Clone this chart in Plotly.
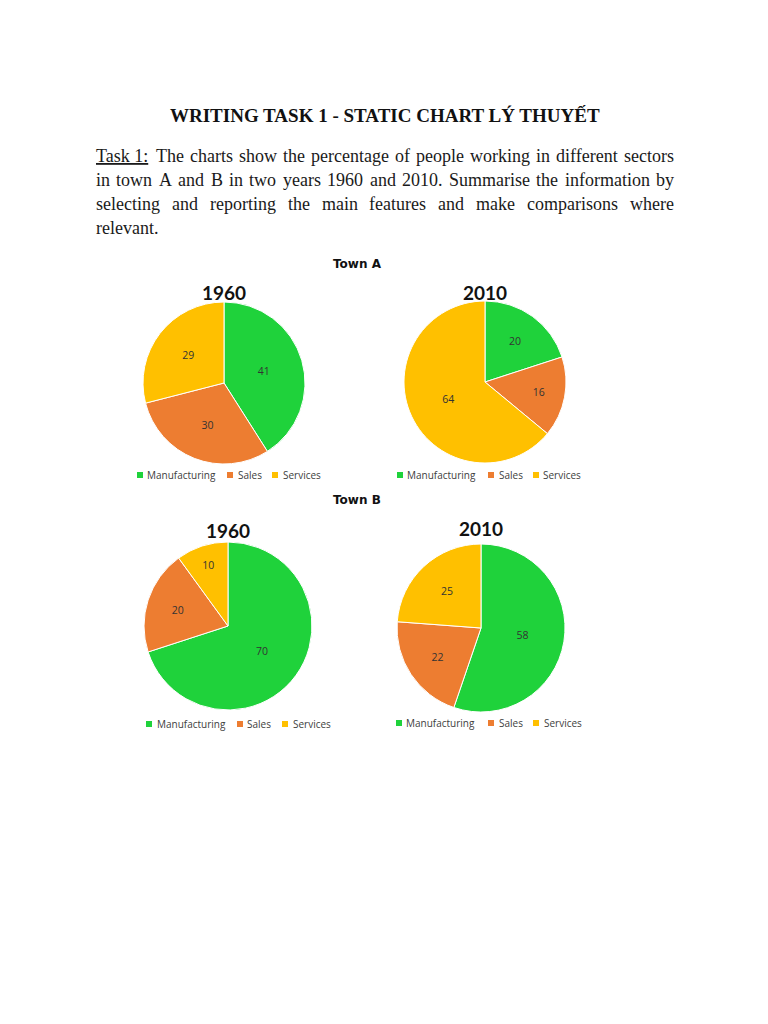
import plotly.graph_objects as go

# ---------------- data ----------------
sectors = ["Manufacturing", "Sales", "Services"]
town_a_1960 = [41, 30, 29]
town_a_2010 = [20, 16, 64]
town_b_1960 = [70, 20, 10]
town_b_2010 = [58, 22, 25]
years = ["1960", "2010"]
towns = ["Town A", "Town B"]
colors = ["#1FD23B", "#ED7D31", "#FFC000"]

title_text = "WRITING TASK 1 - STATIC CHART LÝ THUYẾT"
para_lines = [
    "Task 1: The charts show the percentage of people working in different sectors",
    "in town A and B in two years 1960 and 2010. Summarise the information by",
    "selecting and reporting the main features and make comparisons where",
    "relevant.",
]

W, H = 768, 1024


def px(x):
    return x / W


def py(y):
    return 1 - y / H


fig = go.Figure()

# ---------------- pies ----------------
pies = [
    (town_a_1960, 224, 383, 81),
    (town_a_2010, 485, 382, 81),
    (town_b_1960, 228, 626, 84),
    (town_b_2010, 481, 628, 84),
]
for vals, cx, cy, r in pies:
    fig.add_trace(go.Pie(
        labels=sectors, values=vals, sort=False, direction="clockwise", rotation=0,
        marker=dict(colors=colors, line=dict(color="#FFFFFF", width=1)),
        textinfo="text", text=[str(v) for v in vals],
        textposition="inside", insidetextorientation="horizontal",
        textfont=dict(family="Open Sans", size=10.5, color="#333333"),
        domain=dict(x=[px(cx - r), px(cx + r)], y=[py(cy + r), py(cy - r)]),
        showlegend=False, hoverinfo="label+value",
    ))

annotations = []
shapes = []

# ---------------- chart titles ----------------
for txt, x, y in [(towns[0], 357, 264), (towns[1], 357, 500)]:
    annotations.append(dict(text="<b>" + txt + "</b>", x=px(x), y=py(y), xref="paper", yref="paper",
                            showarrow=False, xanchor="center", yanchor="middle",
                            font=dict(family="DejaVu Sans", size=12, color="#111111")))
for txt, x, y in [(years[0], 224, 292), (years[1], 485, 292), (years[0], 228, 530), (years[1], 481, 528)]:
    annotations.append(dict(text="<b>" + txt + "</b>", x=px(x), y=py(y), xref="paper", yref="paper",
                            showarrow=False, xanchor="center", yanchor="middle",
                            font=dict(family="Lato", size=19, color="#111111")))

# ---------------- legends ----------------
legend_layouts = [
    (475, [137, 227, 272], [145, 236, 281]),
    (475, [397, 488, 533], [405, 497, 541]),
    (724, [146, 237, 282], [155, 245, 291]),
    (723, [396, 488, 533], [404, 497, 542]),
]
for ly, sq_x, tx_x in legend_layouts:
    for i, name in enumerate(sectors):
        shapes.append(dict(type="rect", xref="paper", yref="paper",
                           x0=px(sq_x[i]), x1=px(sq_x[i] + 6), y0=py(ly + 3), y1=py(ly - 3),
                           fillcolor=colors[i], line=dict(width=0)))
        annotations.append(dict(text=name, x=px(tx_x[i]), y=py(ly), xref="paper", yref="paper",
                                showarrow=False, xanchor="left", yanchor="middle",
                                font=dict(family="Open Sans", size=10, color="#404040")))

# ---------------- document text ----------------
annotations.append(dict(text="<b>" + title_text + "</b>", x=px(385), y=py(115), xref="paper", yref="paper",
                        showarrow=False, xanchor="center", yanchor="middle",
                        font=dict(family="Liberation Serif", size=19, color="#111111")))

# Times / Liberation Serif advance widths (per 1000 em)
TW = {
    'a': 444, 'b': 500, 'c': 444, 'd': 500, 'e': 444, 'f': 333, 'g': 500, 'h': 500, 'i': 278, 'j': 278,
    'k': 500, 'l': 278, 'm': 778, 'n': 500, 'o': 500, 'p': 500, 'q': 500, 'r': 333, 's': 389, 't': 278,
    'u': 500, 'v': 500, 'w': 722, 'x': 500, 'y': 500, 'z': 444, ' ': 250, '.': 250, ',': 250, ':': 278,
    'A': 722, 'B': 667, 'C': 667, 'D': 722, 'E': 611, 'F': 556, 'G': 722, 'H': 722, 'I': 333, 'J': 389,
    'K': 722, 'L': 611, 'M': 889, 'N': 722, 'O': 722, 'P': 556, 'Q': 722, 'R': 667, 'S': 556, 'T': 611,
    'U': 722, 'V': 722, 'W': 944, 'X': 722, 'Y': 722, 'Z': 611,
}


def tw(s, fs):
    return sum(TW.get(c, 500) for c in s) * fs / 1000.0


FS = 18
left, right = 95, 673
line_y = [156, 180, 204, 228]
for li, line in enumerate(para_lines):
    words = line.split(" ")
    if li == 0:
        words = ["Task 1:"] + words[2:]
    justified = li < len(para_lines) - 1
    if justified:
        total = sum(tw(w, FS) for w in words)
        gap = (right - left - total) / (len(words) - 1)
    else:
        gap = tw(" ", FS)
    x = left
    for w in words:
        txt = "<u>" + w + "</u>" if w == "Task 1:" else w
        annotations.append(dict(text=txt, x=px(x), y=py(line_y[li]), xref="paper", yref="paper",
                                showarrow=False, xanchor="left", yanchor="middle", borderpad=0,
                                font=dict(family="Liberation Serif", size=FS, color="#1a1a1a")))
        x += tw(w, FS) + gap

fig.update_layout(
    width=W, height=H,
    margin=dict(l=0, r=0, t=0, b=0),
    paper_bgcolor="#FFFFFF", plot_bgcolor="#FFFFFF",
    annotations=annotations, shapes=shapes,
    showlegend=False,
)

fig.write_html("out.html")
